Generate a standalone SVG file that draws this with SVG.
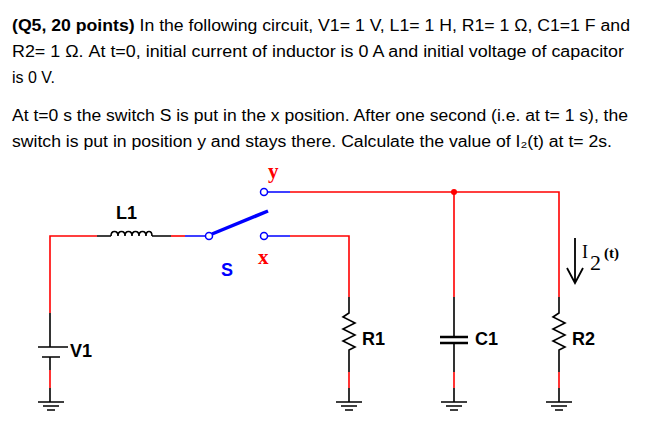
<svg xmlns="http://www.w3.org/2000/svg" width="659" height="424" viewBox="0 0 659 424">
<style>
.t{font-family:"Liberation Sans",Arial,sans-serif;font-size:16px;fill:#000}
.r{stroke:#f00;stroke-width:1.6;fill:none}
.k{stroke:#000;stroke-width:1.6;fill:none}
.b{stroke:#00f;stroke-width:1.6;fill:none}
.lb{font-family:"Liberation Sans",Arial,sans-serif;font-weight:bold;font-size:18px;fill:#000}
</style>
<rect width="659" height="424" fill="#fff"/>
<g id="text">
<text class="t" x="12" y="31" textLength="618" lengthAdjust="spacingAndGlyphs"><tspan font-weight="bold">(Q5, 20 points)</tspan> In the following circuit, V1= 1 V, L1= 1 H, R1= 1 Ω, C1=1 F and</text>
<text class="t" x="12" y="57" textLength="612" lengthAdjust="spacingAndGlyphs">R2= 1 Ω. At t=0, initial current of inductor is 0 A and initial voltage of capacitor</text>
<text class="t" x="12" y="83">is 0 V.</text>
<text class="t" x="12" y="121" textLength="616" lengthAdjust="spacingAndGlyphs">At t=0 s the switch S is put in the x position. After one second (i.e. at t= 1 s), the</text>
<text class="t" x="12" y="147" textLength="600" lengthAdjust="spacingAndGlyphs">switch is put in position y and stays there. Calculate the value of I₂(t) at t= 2s.</text>
</g>
<g id="connectors">
<path class="r" d="M50 313V236H97"/>
<path class="k" d="M50 313V347"/>
<path class="k" d="M50 357V370"/>
<path class="r" d="M50 370V388"/>
<path class="k" d="M50 388V402"/>
<path class="k" d="M97 236H111M152 236H171"/>
<path class="r" d="M171 236H185"/>
<path class="b" d="M185 236H205M268 192H290M268 236H290"/>
<path class="r" d="M290 192H559V297M290 236H349V297M454 192V297"/>
<circle cx="454" cy="192" r="3" fill="#f00"/>
</g>
<g id="V1">
<path class="k" d="M38 347H68M42 357H60M38 402H64M43 406H59M47 410H55"/>
<text class="lb" x="70" y="357">V1</text>
</g>
<g id="L1">
<path class="k" d="M111 236c0-6 7-6 7 0c0-6 7-6 7 0c0-6 7-6 7 0c0-6 7-6 7 0c0-6 7-6 7 0c0-6 6-6 6 0"/>
<text class="lb" x="116" y="219">L1</text>
</g>
<g id="S">
<circle cx="209" cy="236" r="3.5" fill="#fff" stroke="#00f" stroke-width="1.5"/>
<circle cx="264" cy="192" r="3.5" fill="#fff" stroke="#00f" stroke-width="1.5"/>
<circle cx="264" cy="236" r="3.5" fill="#fff" stroke="#00f" stroke-width="1.5"/>
<path d="M212 234L268 211" stroke="#00f" stroke-width="3.5"/>
<text x="221" y="276" font-family="Liberation Sans,sans-serif" font-weight="bold" font-size="18" fill="#00f">S</text>
<text x="268" y="178" font-family="Liberation Serif,serif" font-weight="bold" font-size="21" fill="#f00">y</text>
<text x="258" y="264" font-family="Liberation Serif,serif" font-weight="bold" font-size="21" fill="#f00">x</text>
</g>
<g id="R1">
<path class="k" d="M349 297V313l-6 4 12 6-12 6 12 6-12 6 12 6-6 3V372"/>
<path class="r" d="M349 372V388"/>
<path class="k" d="M349 388V402M336 402H362M341 406H357M345 410H353"/>
<text class="lb" x="362" y="345">R1</text>
</g>
<g id="C1">
<path class="k" d="M454 297V337M454 343V372M454 388V402M441 402H467M446 406H462M450 410H458"/>
<path class="r" d="M454 372V388"/>
<path d="M440 337H468M440 343H468" stroke="#000" stroke-width="2.5"/>
<text class="lb" x="475" y="345">C1</text>
</g>
<g id="R2">
<path class="k" d="M559 297V313l-6 4 12 6-12 6 12 6-12 6 12 6-6 3V372"/>
<path class="r" d="M559 372V388"/>
<path class="k" d="M559 388V402M546 402H572M551 406H567M555 410H563"/>
<text class="lb" x="572" y="345">R2</text>
<path d="M575 238V282M567 268L575 283L583 268" stroke="#000" stroke-width="1.8" fill="none"/>
<text x="582" y="258" font-family="Liberation Serif,serif" font-size="18" fill="#000">I</text>
<text x="590" y="270" font-family="Liberation Serif,serif" font-size="22" fill="#000">2</text>
<text x="604" y="258" font-family="Liberation Serif,serif" font-weight="bold" font-size="15" fill="#000">(t)</text>
</g>
</svg>
